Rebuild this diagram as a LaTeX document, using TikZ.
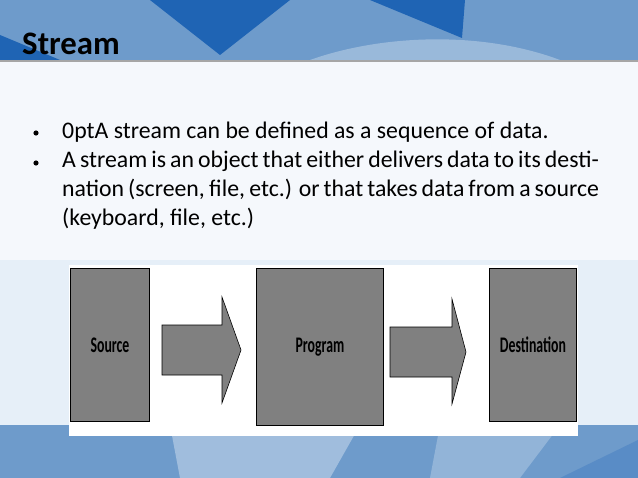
\documentclass[tikz,border=0pt]{standalone}
\usepackage{fontspec}
\setmainfont{Carlito}
\usetikzlibrary{shapes.arrows}
\definecolor{bandblue}{HTML}{6E9BCB}
\definecolor{deepblue}{HTML}{1F64B4}
\definecolor{paleblue}{HTML}{E6EFF8}
\definecolor{boxgray}{HTML}{808080}
\begin{document}
\begin{tikzpicture}[x=0.03cm,y=-0.03cm,
    blockbox/.style={draw=black, fill=boxgray, line width=0.8pt, inner sep=0pt},
    flowarrow/.style={draw=black, fill=boxgray, line width=0.5pt},
    blocklabel/.style={font=\bfseries\fontsize{19}{22}\selectfont, xscale=0.62},
]
\useasboundingbox (0,0) rectangle (638,478);

% background
\fill[paleblue] (0,0) rectangle (638,478);
\fill[white, opacity=0.6] (0,62) rectangle (638,260);
% title band
\fill[bandblue] (0,0) rectangle (638,60);
\fill[deepblue] (150,0) -- (290,0) -- (220,55) -- cycle;
\fill[deepblue] (370,0) -- (465,0) -- (462,38) -- cycle;
\fill[deepblue] (0,35) -- (60,60) -- (0,60) -- cycle;
\fill[white, opacity=0.3] (310,60) .. controls (380,35) and (480,30) .. (560,60) -- cycle;
\draw[gray!70, line width=1pt] (0,61) -- (638,61);
% bottom band
\fill[bandblue] (0,425) rectangle (638,478);
\fill[white, opacity=0.35] (170,425) -- (360,425) -- (330,478) -- (180,478) -- cycle;
\fill[white, opacity=0.25] (440,425) -- (560,425) -- (520,478) -- (430,478) -- cycle;
\fill[deepblue!80, opacity=0.6] (560,478) -- (638,440) -- (638,478) -- cycle;

% title
\node[anchor=west, inner sep=0pt, font=\bfseries\fontsize{28}{32}\selectfont] (title) at (22,44) {Stream};

% bullets
\node[anchor=north west, inner sep=0pt, text width=16.1cm, align=justify,
      font=\fontsize{20.3}{24.7}\selectfont\hyphenpenalty=10000] (bullets) at (62,122) {%
  A stream can be defined as a sequence of data.\par
  A stream is an object that either delivers data to its destination (screen, file, etc.) or that takes data from a source (keyboard, file, etc.)};
\foreach \y in {133,163}
  \fill (36,\y) circle (2.6);

% diagram
\fill[white] (69,265) rectangle (578,436);
\node[blockbox, minimum width=2.37cm, minimum height=4.59cm, anchor=north west] (source) at (70,268) {};
\node[blocklabel] at (source) {Source};
\node[blockbox, minimum width=3.81cm, minimum height=4.71cm, anchor=north west] (program) at (256,268) {};
\node[blocklabel] at (program) {Program};
\node[blockbox, minimum width=2.61cm, minimum height=4.59cm, anchor=north west] (destination) at (489,268) {};
\node[blocklabel] at (destination) {Destination};

% arrows
\draw[flowarrow] (162,325) -- (222,325) -- (222,297) -- (241,350) -- (222,403) -- (222,375) -- (162,375) -- cycle;
\draw[flowarrow] (390,327) -- (452,327) -- (452,299) -- (466,352) -- (452,404) -- (452,377) -- (390,377) -- cycle;
\end{tikzpicture}
\end{document}
